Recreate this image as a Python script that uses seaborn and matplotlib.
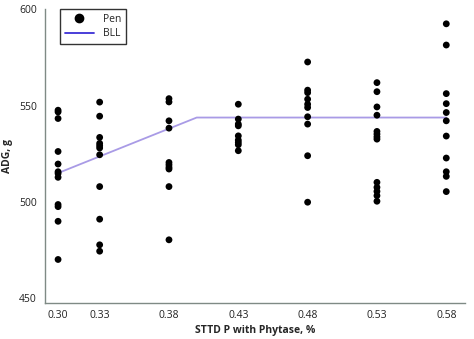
import matplotlib
matplotlib.use("Agg")
import matplotlib.pyplot as plt
from matplotlib.lines import Line2D
import seaborn as sns
import pandas as pd

# Pen-level observations (ADG, g) per STTD P level
p030 = [547.6, 546.7, 543.3, 526.2, 519.7, 515.7, 514.8, 512.8, 498.7, 497.6, 490.0, 470.2]
p033 = [551.8, 544.5, 533.5, 530.4, 529.2, 528.0, 524.5, 508.0, 491.1, 477.8, 474.5]
p038 = [553.6, 551.9, 542.1, 538.3, 520.5, 519.3, 518.0, 517.1, 508.0, 480.4]
p043 = [550.7, 543.0, 540.4, 539.5, 534.3, 532.1, 530.9, 529.7, 526.6]
p048 = [572.6, 558.0, 556.7, 553.3, 550.7, 549.0, 544.2, 540.4, 524.0, 499.9]
p053 = [561.9, 557.2, 549.3, 545.0, 536.6, 535.2, 533.8, 532.6, 510.2, 507.6, 505.5, 503.3, 500.4]
p058 = [592.4, 581.4, 556.2, 551.0, 546.4, 542.1, 534.2, 522.8, 515.7, 513.3, 505.4]

levels = [0.30, 0.33, 0.38, 0.43, 0.48, 0.53, 0.58]
tick_labels = ["0.30", "0.33", "0.38", "0.43", "0.48", "0.53", "0.58"]
groups = [p030, p033, p038, p043, p048, p053, p058]

# Broken-line linear fit
bll_x = [0.30, 0.40, 0.58]
bll_y = [515.0, 543.8, 543.8]

rows = []
for lv, vals in zip(levels, groups):
    for v in vals:
        rows.append({"p": lv, "adg": v})
df = pd.DataFrame(rows)
bll = pd.DataFrame({"p": bll_x, "adg": bll_y})

sns.set_style("white")
plt.rcParams["font.family"] = ["Open Sans", "DejaVu Sans"]

fig = plt.figure(figsize=(4.74, 3.39), dpi=100)
ax = fig.add_axes([0.095, 0.106, 0.886, 0.867])

sns.lineplot(data=bll, x="p", y="adg", ax=ax, color="#a99be6", linewidth=1.3,
             estimator=None, sort=False, zorder=1)
sns.scatterplot(data=df, x="p", y="adg", ax=ax, color="black", s=24,
                edgecolor="none", zorder=2)

ax.set_xlim(0.2906, 0.5935)
ax.set_ylim(447.6, 600)
ax.set_xticks(levels)
ax.set_xticklabels(tick_labels)
ax.set_yticks([450, 500, 550, 600])

for side in ["top", "right"]:
    ax.spines[side].set_visible(False)
for side in ["left", "bottom"]:
    ax.spines[side].set_color("#7f8a85")
    ax.spines[side].set_linewidth(1.0)
ax.tick_params(axis="both", direction="out", length=3, width=0.8,
               color="#7f8a85", labelsize=7.5, labelcolor="#222222", pad=2)
ax.tick_params(axis="y", length=4)

ax.set_xlabel("STTD P with Phytase, %", fontsize=7.5, fontweight="bold", labelpad=3)
ax.set_ylabel("ADG, g", fontsize=7.5, fontweight="bold", labelpad=4)

handles = [
    Line2D([], [], marker="o", color="black", linestyle="none", markersize=6),
    Line2D([], [], color="#3b2fd6", linewidth=1.3),
]
leg = ax.legend(handles, ["Pen", "BLL"], loc="upper left",
                bbox_to_anchor=(0.036, 1.0), borderaxespad=0, fontsize=7.5,
                frameon=True, fancybox=False, edgecolor="#333333", framealpha=1,
                handlelength=2.8, borderpad=0.45, labelspacing=0.35,
                handletextpad=0.9)
leg.get_frame().set_linewidth(1.0)

fig.savefig("out.png", dpi=100)
